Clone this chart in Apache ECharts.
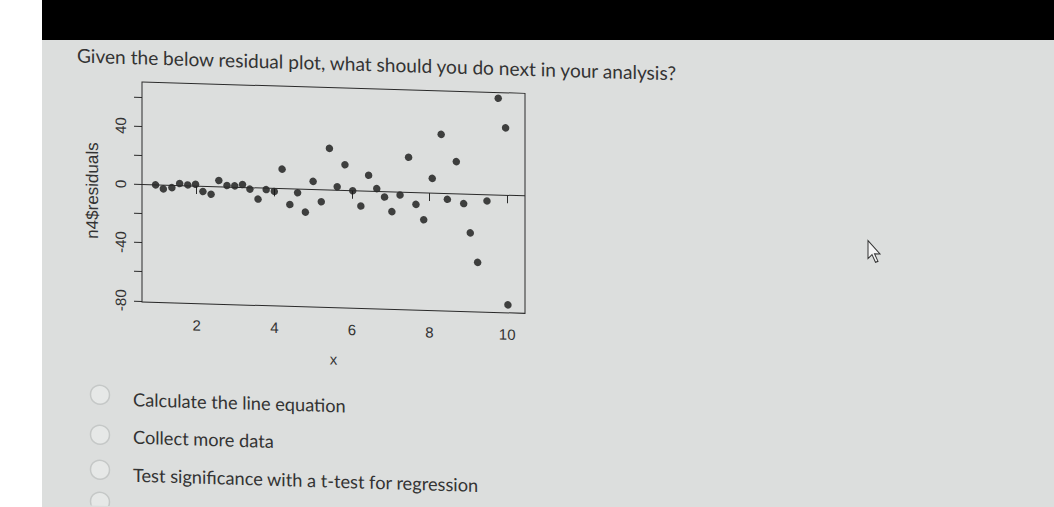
<!DOCTYPE html>
<html><head><meta charset="utf-8">
<script src="https://cdn.jsdelivr.net/npm/echarts@6/dist/echarts.min.js"></script>
<style>
html,body{margin:0;padding:0;background:#fff;width:1054px;height:507px;overflow:hidden;}
#bar{position:absolute;left:42px;top:0;width:1012px;height:40px;background:#000;}
#page{position:absolute;left:42px;top:40px;width:1012px;height:467px;background:#dcdedd;overflow:hidden;}
#chart{position:absolute;left:-42px;top:-40px;width:1054px;height:507px;transform:skewY(1.7deg);transform-origin:142px 0;}
</style></head><body>
<div id="bar"></div>
<div id="page"><div id="chart"></div></div>
<script>
const xValues = [0.94,1.14,1.36,1.56,1.77,1.97,2.16,2.37,2.57,2.78,2.98,3.18,3.37,3.58,3.79,4.0,4.2,4.4,4.6,4.8,5.0,5.21,5.42,5.62,5.82,6.02,6.23,6.43,6.64,6.84,7.03,7.24,7.46,7.65,7.85,8.07,8.3,8.46,8.69,8.88,9.05,9.24,9.48,9.77,9.96,10.02];
const residuals = [0,-2.6,-1.6,1.4,0.6,1.2,-3.6,-5.3,4.3,1.0,0.9,2.0,-1.0,-7.7,-1.0,-2.1,13.4,-10.8,-2.5,-15.7,5.6,-8.2,28.6,2.4,17.7,0,-10.4,10.9,1.9,-3.7,-13.6,-2.0,24.1,-8.1,-18.5,10.1,40.5,-4.0,22.1,-6.6,-26.6,-46.7,-4.3,66.5,46.3,-75.3];
const xTicks = [2,4,6,8,10];
const yTicks = [-80,-60,-40,-20,0,20,40,60];
const yLabels = [-80,-40,0,40];
const questionText = 'Given the below residual plot, what should you do next in your analysis?';
const choices = ['Calculate the line equation','Collect more data','Test significance with a t-test for regression'];
const xName = 'x';
const yName = 'n4$residuals';

const chart = echarts.init(document.getElementById('chart'), null, {renderer:'svg'});
const ink = '#2a2a2a';
const axisFont = {fontFamily:'Liberation Sans', fontSize:15, color:'#333'};

const graphics = [
  {type:'text', x:77, y:57, style:{text:questionText, fontFamily:'Lato', fontSize:19.1, fill:'#333', verticalAlign:'middle'}}
];
const circleY = [396, 436, 471, 503];
circleY.forEach(cy => graphics.push({type:'circle', shape:{cx:100, cy:cy, r:9.5}, style:{fill:'#e6e8e7', stroke:'#c5c8c7', lineWidth:1.5}}));
const textY = [399.5, 437, 475];
choices.forEach((t,i) => graphics.push({type:'text', x:133, y:textY[i], style:{text:t, fontFamily:'Lato', fontSize:18.2, fill:'#333', verticalAlign:'middle'}}));
graphics.push({type:'polygon', shape:{points:[[868,219],[868,237],[872,233],[875.5,240.5],[878,239.5],[874.5,232],[880,232]]}, style:{fill:'#f4f4f4', stroke:'#333', lineWidth:1}});

chart.setOption({
  animation:false,
  grid:{left:142, top:82, width:383, height:220, show:true, borderColor:ink, borderWidth:1, backgroundColor:'transparent', containLabel:false},
  xAxis:{type:'value', min:0.59, max:10.46, name:xName, nameLocation:'middle', nameGap:44, nameTextStyle:axisFont,
    axisLine:{show:false}, splitLine:{show:false},
    axisTick:{show:true, length:8, customValues:xTicks, lineStyle:{color:ink}},
    axisLabel:{customValues:xTicks, margin:14, ...axisFont}},
  yAxis:{type:'value', min:-80.8, max:70.4, name:yName, nameLocation:'middle', nameGap:41, nameRotate:90, nameTextStyle:{...axisFont, fontSize:17},
    axisLine:{show:false}, splitLine:{show:false},
    axisTick:{show:true, length:8, customValues:yTicks, lineStyle:{color:ink}},
    axisLabel:{customValues:yLabels, margin:14, rotate:90, ...axisFont}},
  series:[{type:'scatter', data:xValues.map((x,i)=>[x,residuals[i]]), symbolSize:7.5, itemStyle:{color:'#161616'},
    markLine:{silent:true, symbol:['none','none'], label:{show:false}, lineStyle:{color:ink, type:'solid', width:1}, data:[{yAxis:0}]}}],
  graphic:graphics
});
</script>
</body></html>
